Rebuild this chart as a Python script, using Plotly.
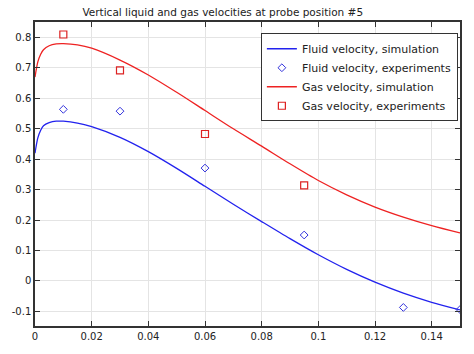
import plotly.graph_objects as go

# Simulation curves
sim_x = [0, 0.001, 0.002, 0.003, 0.005, 0.0075, 0.01, 0.015, 0.02, 0.03, 0.04, 0.05,
         0.06, 0.07, 0.08, 0.09, 0.1, 0.11, 0.12, 0.13, 0.14, 0.15]
fluid_sim = [0.42, 0.47, 0.495, 0.51, 0.52, 0.525, 0.525, 0.519, 0.507, 0.472, 0.425, 0.37,
             0.311, 0.252, 0.195, 0.139, 0.086, 0.038, -0.004, -0.04, -0.07, -0.095]
gas_sim = [0.67, 0.72, 0.745, 0.76, 0.773, 0.779, 0.78, 0.776, 0.765, 0.726, 0.677, 0.62,
           0.56, 0.5, 0.443, 0.385, 0.33, 0.283, 0.243, 0.21, 0.182, 0.158]

# Experiments
fluid_exp_x = [0.01, 0.03, 0.06, 0.095, 0.13, 0.15]
fluid_exp_y = [0.564, 0.558, 0.371, 0.151, -0.087, -0.094]
gas_exp_x = [0.01, 0.03, 0.06, 0.095]
gas_exp_y = [0.81, 0.692, 0.483, 0.314]

x_ticks = [0, 0.02, 0.04, 0.06, 0.08, 0.1, 0.12, 0.14]
x_tick_text = ["0", "0.02", "0.04", "0.06", "0.08", "0.1", "0.12", "0.14"]
y_ticks = [-0.1, 0, 0.1, 0.2, 0.3, 0.4, 0.5, 0.6, 0.7, 0.8]
y_tick_text = ["-0.1", "0", "0.1", "0.2", "0.3", "0.4", "0.5", "0.6", "0.7", "0.8"]

BLUE = "#2222ee"
RED = "#ee2222"

fig = go.Figure()
fig.add_trace(go.Scatter(x=sim_x, y=fluid_sim, mode="lines", name="Fluid velocity, simulation",
                         line=dict(color=BLUE, width=1.3, shape="spline", smoothing=0.8)))
fig.add_trace(go.Scatter(x=fluid_exp_x, y=fluid_exp_y, mode="markers", name="Fluid velocity, experiments",
                         marker=dict(symbol="diamond-open", size=6, color="#3333dd", line=dict(width=1))))
fig.add_trace(go.Scatter(x=sim_x, y=gas_sim, mode="lines", name="Gas velocity, simulation",
                         line=dict(color=RED, width=1.3, shape="spline", smoothing=0.8)))
fig.add_trace(go.Scatter(x=gas_exp_x, y=gas_exp_y, mode="markers", name="Gas velocity, experiments",
                         marker=dict(symbol="square-open", size=7, color="#dd2222", line=dict(width=1.2))))

axis_common = dict(showgrid=True, gridcolor="#e4e4e4", gridwidth=1, zeroline=False,
                   showline=True, linecolor="#333333", linewidth=1.5, mirror="ticks",
                   ticks="inside", ticklen=5, tickcolor="#333333",
                   tickfont=dict(family="DejaVu Sans", size=10, color="#222222"))

fig.update_layout(
    width=474, height=354,
    margin=dict(l=32, r=14, t=22, b=21),
    paper_bgcolor="white", plot_bgcolor="white",
    title=dict(text="Vertical liquid and gas velocities at probe position #5",
               x=0.47, xanchor="center", y=0.975, yanchor="top",
               font=dict(family="DejaVu Sans", size=10.5, color="#222222")),
    xaxis=dict(range=[0, 0.15], tickvals=x_ticks, ticktext=x_tick_text, **axis_common),
    yaxis=dict(range=[-0.148, 0.851], tickvals=y_ticks, ticktext=y_tick_text, **axis_common),
    legend=dict(x=0.995, xanchor="right", y=0.963, yanchor="top",
                bgcolor="white", bordercolor="#333333", borderwidth=1,
                font=dict(family="DejaVu Sans", size=11, color="#222222"),
                tracegroupgap=0, itemwidth=30),
    showlegend=True,
)

fig.write_html("out.html")
